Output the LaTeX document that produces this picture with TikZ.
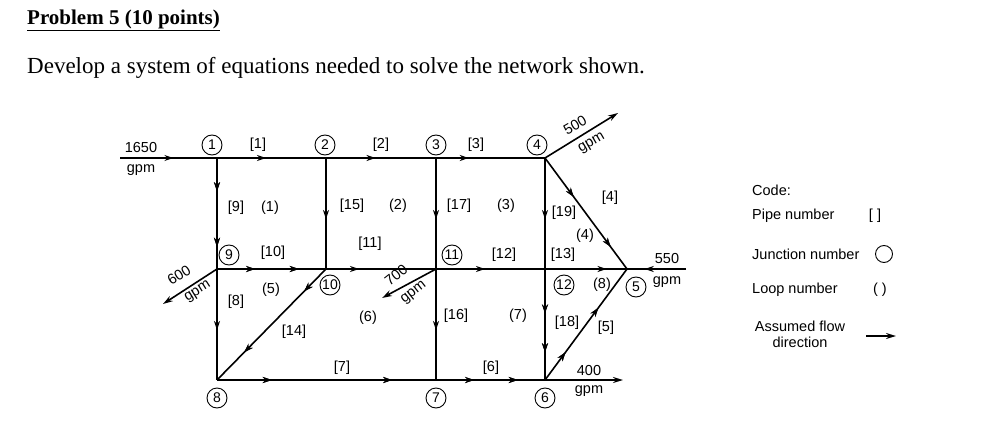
\documentclass[tikz,border=0pt]{standalone}
\usepackage{fontspec}
\setmainfont{Liberation Serif}
\newfontfamily\lsans{Liberation Sans}
\usetikzlibrary{decorations.markings,arrows.meta}
\begin{document}
\begin{tikzpicture}[x=1pt,y=-1pt,
 pipe/.style={line width=1.6pt},
 ar/.style={postaction={decorate},decoration={markings,mark=at position #1 with {\arrow{Stealth[length=9pt,width=6pt]}}}},
 jn/.style={circle,draw,line width=0.9pt,inner sep=0pt,minimum size=20pt,font=\lsans\fontsize{14}{14}\selectfont},
 lb/.style={font=\lsans\fontsize{14.5}{16}\selectfont,inner sep=0pt},
 fl/.style={line width=1.6pt,-{Stealth[length=10pt,width=6pt]}}]
\useasboundingbox (0,0) rectangle (1004,444);
\node[anchor=west,font=\bfseries\fontsize{21}{21}\selectfont,inner sep=0pt] (title) at (27,20) {\underline{Problem 5 (10 points)}};
\node[anchor=west,font=\fontsize{23}{23}\selectfont,inner sep=0pt] (sub) at (27,68) {Develop a system of equations needed to solve the network shown.};
% junction points
\coordinate (p1) at (217,158); \coordinate (p2) at (326,158); \coordinate (p3) at (436,158); \coordinate (p4) at (545,158);
\coordinate (p9) at (217,269); \coordinate (p10) at (326,269); \coordinate (p11) at (436,269); \coordinate (p12) at (545,269);
\coordinate (p5) at (627,269); \coordinate (p8) at (217,380); \coordinate (p7) at (436,380); \coordinate (p6) at (545,380);
\coordinate (in) at (120,158); \coordinate (o500) at (618,113); \coordinate (o600) at (163,304);
\coordinate (o700) at (382,298); \coordinate (i550) at (686,269); \coordinate (o400) at (623,380);
% pipes
\draw[pipe,ar=0.55] (in) -- (p1);
\draw[pipe,ar=0.45] (p1) -- (p2);
\draw[pipe,ar=0.45] (p2) -- (p3);
\draw[pipe,ar=0.3] (p3) -- (p4);
\draw[pipe,ar=0.3,ar=0.8] (p1) -- (p9);
\draw[pipe,ar=0.55] (p2) -- (p10);
\draw[pipe,ar=0.55] (p3) -- (p11);
\draw[pipe,ar=0.55] (p4) -- (p12);
\draw[pipe,ar=0.35,ar=0.75] (p9) -- (p10);
\draw[pipe,ar=0.3] (p10) -- (p11);
\draw[pipe,ar=0.45] (p11) -- (p12);
\draw[pipe,ar=0.75] (p12) -- (p5);
\draw[pipe,ar=0.55] (p9) -- (p8);
\draw[pipe,ar=0.55] (p11) -- (p7);
\draw[pipe,ar=0.4,ar=0.75] (p12) -- (p6);
\draw[pipe,ar=0.2,ar=0.75] (p10) -- (p8);
\draw[pipe,ar=0.35,ar=0.8] (p4) -- (p5);
\draw[pipe,ar=0.25,ar=0.65] (p6) -- (p5);
\draw[pipe,ar=0.25,ar=0.8] (p8) -- (p7);
\draw[pipe,ar=0.35,ar=0.75] (p7) -- (p6);
\draw[fl] (p4) -- (o500);
\draw[fl] (p9) -- (o600);
\draw[fl] (p11) -- (o700);
\draw[pipe,ar=0.7] (i550) -- (p5);
\draw[fl] (p6) -- (o400);
% junction numbers
\node[jn] (n1) at (212,145) {1}; \node[jn] (n2) at (325,145) {2}; \node[jn] (n3) at (436,145) {3};
\node[jn] (n4) at (537,145) {4}; \node[jn] (n9) at (229,255) {9}; \node[jn] (n10) at (330,285) {10};
\node[jn] (n11) at (452,255) {11}; \node[jn] (n12) at (564,285) {12}; \node[jn] (n5) at (636,287) {5};
\node[jn] (n8) at (217,398) {8}; \node[jn] (n7) at (436,398) {7}; \node[jn] (n6) at (545,398) {6};
% labels
\foreach \t/\x/\y [count=\i] in {[1]/258/145,[2]/381/145,[3]/476/145,[9]/236/208,(1)/270/208,[15]/352/206,(2)/398/206,[17]/459/206,(3)/506/206,[19]/564/213,[4]/610/198,(4)/585/236,[10]/273/253,[11]/370/244,[12]/504/255,[13]/563/255,550/667/259,gpm/667/282,(8)/602/285,(5)/271/290,[8]/236/302,[14]/294/332,(6)/368/318,[16]/456/316,(7)/518/316,[18]/567/323,[5]/606/328,[7]/342/368,[6]/491/368,400/589/371,gpm/589/391,1650/141/148,gpm/141/170}
  \node[lb] (l\i) at (\x,\y) {\t};
\node[lb,rotate=32] (l600) at (179,275) {600};
\node[lb,rotate=32] (lg600) at (198,292) {gpm};
\node[lb,rotate=38] (l700) at (396,275) {700};
\node[lb,rotate=38] (lg700) at (414,293) {gpm};
\node[lb,rotate=30] (l500) at (575,125) {500};
\node[lb,rotate=30] (lg500) at (592,143) {gpm};
% legend
\node[lb,anchor=west] (c0) at (752,190) {Code:};
\node[lb,anchor=west] (c1) at (752,216) {Pipe number};
\node[lb] (c1s) at (875,216) {[\hspace{4pt}]};
\node[lb,anchor=west] (c2) at (752,254) {Junction number};
\node[circle,draw,line width=0.9pt,minimum size=17pt,inner sep=0pt] (c2s) at (884,254) {};
\node[lb,anchor=west] (c3) at (752,290) {Loop number};
\node[lb] (c3s) at (880,290) {(\hspace{4pt})};
\node[lb,align=center] (c4) at (800,334) {Assumed flow\\direction};
\coordinate (a1) at (866,336); \coordinate (a2) at (896,336);
\draw[fl] (a1) -- (a2);
\end{tikzpicture}
\end{document}
